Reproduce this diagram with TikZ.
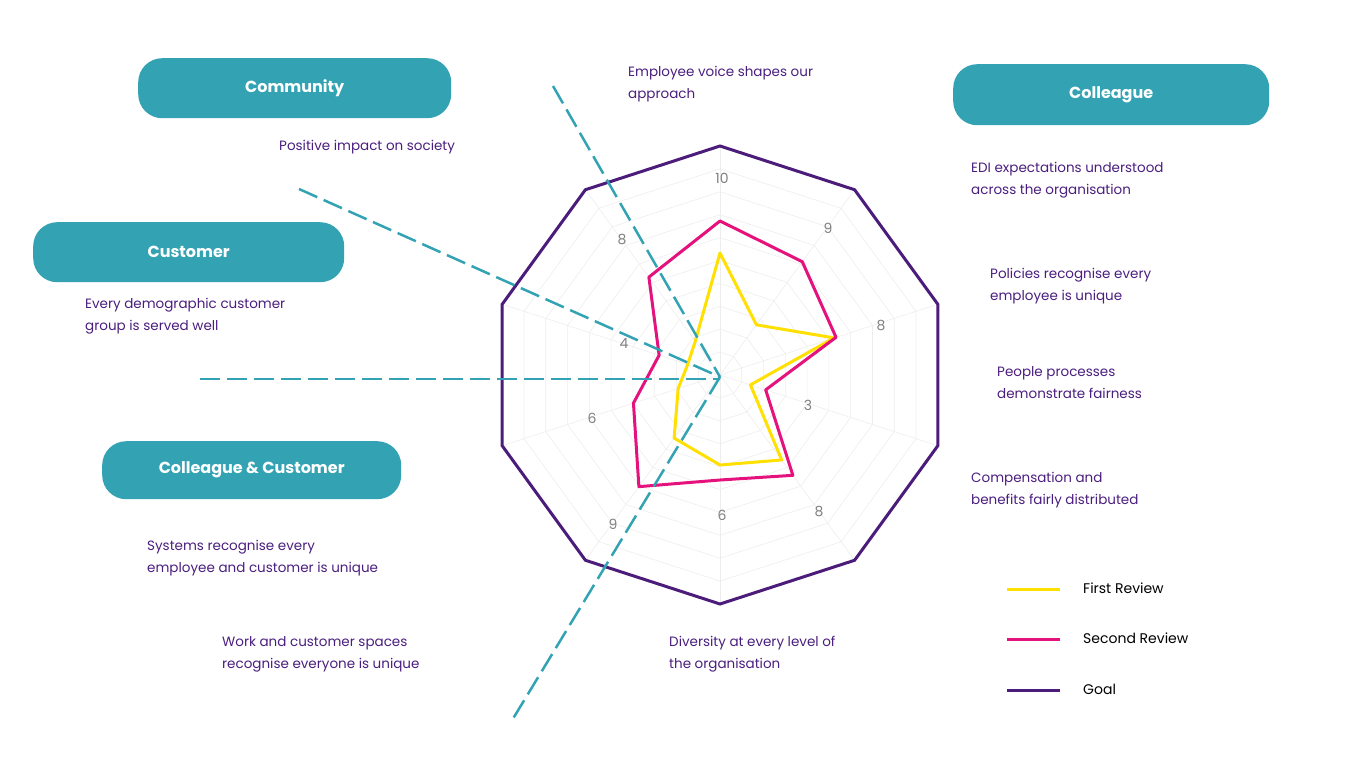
\documentclass[tikz,border=0pt]{standalone}
\usepackage{fontspec}
\setmainfont{Poppins}
\definecolor{teal1}{HTML}{33A3B4}
\definecolor{purp}{HTML}{4B1C7A}
\definecolor{txt}{HTML}{4A1E7E}
\definecolor{pinkc}{HTML}{E5127D}
\definecolor{yel}{HTML}{FFE000}
\definecolor{gridc}{HTML}{EDEDED}
\tikzset{
 box/.style={fill=teal1,rounded corners=24pt,text=white,font=\fontsize{16}{18}\selectfont\bfseries,inner sep=0pt,anchor=north west},
 lab/.style={text=txt,font=\fontsize{13.5}{22}\selectfont,align=left,anchor=north west,inner sep=0pt},
 num/.style={text=gray,font=\fontsize{14}{16}\selectfont,inner sep=0pt},
 dashline/.style={teal1,line width=2.5pt,dash pattern=on 20pt off 7pt},
 leg/.style={font=\fontsize{14}{16}\selectfont,anchor=west,inner sep=0pt}
}
\begin{document}
\begin{tikzpicture}[x=1pt,y=-1pt]
\useasboundingbox (0,0) rectangle (1366,768);
\begin{scope}[shift={(720,375)},yscale=-1]
 \foreach \k in {1,...,10}{
  \draw[gridc,line width=0.6pt] (90:22.9*\k) \foreach \a in {54,18,-18,-54,-90,-126,-162,162,126}{ -- (\a:22.9*\k)} -- cycle;}
 \foreach \a in {90,54,18,-18,-54,-90,-126,-162,162,126} \draw[gridc,line width=0.6pt] (0,0) -- (\a:229);
 \draw[purp,line width=3pt,line join=miter] (90:229) \foreach \a in {54,18,-18,-54,-90,-126,-162,162,126}{ -- (\a:229)} -- cycle;
 \draw[yel,line width=3pt,line join=round] (90:122) -- (54:62) -- (18:120) -- (-18:32) -- (-54:105) -- (-90:90) -- (-126:78) -- (-162:44) -- (162:34) -- (126:42) -- cycle;
 \draw[pinkc,line width=3pt,line join=round] (90:154) -- (54:140) -- (18:122) -- (-18:48) -- (-54:124) -- (-90:105) -- (-126:138) -- (-162:91) -- (162:64) -- (126:121) -- cycle;
\end{scope}
\node[num] at (722,178) {10};
\node[num] at (828,228) {9};
\node[num] at (881,325) {8};
\node[num] at (808,405) {3};
\node[num] at (819,511) {8};
\node[num] at (722,515) {6};
\node[num] at (613,524) {9};
\node[num] at (592,418) {6};
\node[num] at (624,343) {4};
\node[num] at (622,240) {8};
\coordinate (c) at (720,377);
\coordinate (c3) at (720,379);
\coordinate (d1) at (553,86);
\coordinate (d2) at (299,189);
\coordinate (d3) at (200,379);
\coordinate (d4) at (511,722);
\draw[dashline] (d1) -- (c);
\draw[dashline] (d2) -- (c);
\draw[dashline] (d3) -- (c3);
\draw[dashline] (c) -- (d4);
\node[box,minimum width=313pt,minimum height=60pt] (b1) at (138,58) {Community};
\node[box,minimum width=316pt,minimum height=61pt] (b2) at (953,64) {Colleague};
\node[box,minimum width=311pt,minimum height=60pt] (b3) at (33,222) {Customer};
\node[box,minimum width=299pt,minimum height=58pt] (b4) at (102,441) {Colleague \& Customer};
\node[lab] at (628,66) {Employee voice shapes our\\approach};
\node[lab] at (279,140) {Positive impact on society};
\node[lab] at (971,162) {EDI expectations understood\\across the organisation};
\node[lab] at (990,268) {Policies recognise every\\employee is unique};
\node[lab] at (997,366) {People processes\\demonstrate fairness};
\node[lab] at (971,472) {Compensation and\\benefits fairly distributed};
\node[lab] at (85,298) {Every demographic customer\\group is served well};
\node[lab] at (147,540) {Systems recognise every\\employee and customer is unique};
\node[lab] at (222,636) {Work and customer spaces\\recognise everyone is unique};
\node[lab] at (669,636) {Diversity at every level of\\the organisation};
\draw[yel,line width=3pt] (1007,589) -- (1060,589);
\draw[pinkc,line width=3pt] (1007,639) -- (1060,639);
\draw[purp,line width=3pt] (1007,690) -- (1060,690);
\node[leg] (l1) at (1083,588) {First Review};
\node[leg] (l2) at (1083,638) {Second Review};
\node[leg] (l3) at (1083,689) {Goal};
\end{tikzpicture}
\end{document}
